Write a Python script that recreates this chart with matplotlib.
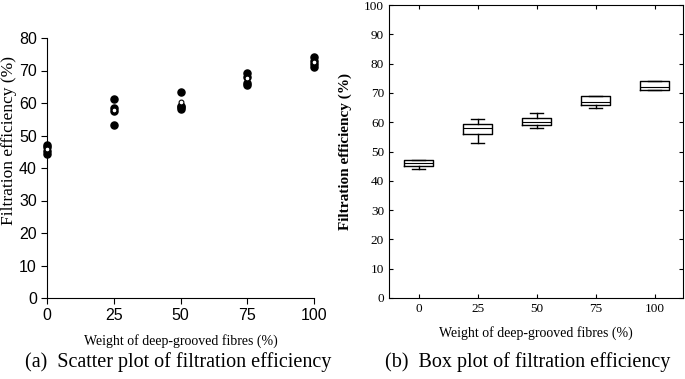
import matplotlib.pyplot as plt

# scatter data (left panel)
weights = [0, 25, 50, 75, 100]
scatter_x = [0, 0, 0, 0, 25, 25, 25, 25, 50, 50, 50, 50, 75, 75, 75, 75, 100, 100, 100, 100]
scatter_y = [47.2, 46.5, 45.2, 44.3, 61.2, 58.6, 57.4, 53.2, 63.3, 59.2, 58.8, 58.3,
             69.2, 68.0, 66.2, 65.4, 74.3, 73.0, 72.0, 71.1]
mean_y = [46.0, 58.0, 60.3, 67.8, 72.7]

# box plot stats (right panel)
box_labels = ['0', '25', '50', '75', '100']
whislo = [44, 53, 58, 65, 71]
q1 = [45, 56, 59, 65.7, 71]
med = [46, 58, 60, 67, 72]
q3 = [47, 59.5, 61.5, 69, 74]
whishi = [47, 61, 63, 69, 74]

fig = plt.figure(figsize=(6.85, 3.79), dpi=100)

# ---- (a) scatter ----
ax1 = fig.add_axes([47.3 / 685, 81 / 379, 266.7 / 685, 260 / 379])
ax1.scatter(scatter_x, scatter_y, s=26, color='black', zorder=3, clip_on=False)
ax1.scatter(weights, mean_y, s=12, facecolor='white', edgecolor='black',
            linewidth=0.8, zorder=4, clip_on=False)
ax1.set_xlim(0, 100)
ax1.set_ylim(0, 80)
ax1.set_xticks(weights)
ax1.set_yticks(range(0, 81, 10))
ax1.spines['top'].set_visible(False)
ax1.spines['right'].set_visible(False)
ax1.tick_params(labelsize=11.5, length=4)
for lab in ax1.get_xticklabels() + ax1.get_yticklabels():
    lab.set_family('Liberation Sans')
ax1.set_ylabel('Filtration efficiency (%)', family='Liberation Serif', fontsize=12.5)
ax1.yaxis.set_label_coords(-0.112, 0.604)
ax1.set_xlabel('Weight of deep-grooved fibres (%)', family='Liberation Serif', fontsize=10, labelpad=8)

# ---- (b) box plot ----
ax2 = fig.add_axes([389 / 685, 81 / 379, 294 / 685, 293 / 379])
stats = []
for i, lab in enumerate(box_labels):
    stats.append(dict(label=lab, whislo=whislo[i], q1=q1[i], med=med[i],
                      q3=q3[i], whishi=whishi[i], fliers=[]))
ax2.bxp(stats, positions=range(1, 6), widths=0.5, capwidths=0.22,
        boxprops=dict(color='black', linewidth=1.0),
        medianprops=dict(color='black', linewidth=0.8),
        whiskerprops=dict(color='black', linewidth=1.0),
        capprops=dict(color='black', linewidth=1.0))
ax2.set_xlim(0.5, 5.48)
ax2.set_ylim(0, 100)
ax2.set_yticks(range(0, 101, 10))
ax2.tick_params(direction='in', top=True, right=True, length=3, labelsize=9.5)
for lab in ax2.get_xticklabels() + ax2.get_yticklabels():
    lab.set_family('Liberation Serif')
ax2.set_ylabel('Filtration efficiency (%)', family='Liberation Serif', fontsize=11,
               fontweight='bold', labelpad=9)
ax2.set_xlabel('Weight of deep-grooved fibres (%)', family='Liberation Serif', fontsize=10, labelpad=8)

# captions
fig.text(178 / 685, 1 - 362 / 379, '(a)  Scatter plot of filtration efficiency',
         family='Liberation Serif', fontsize=14.5, ha='center', va='center')
fig.text(528 / 685, 1 - 362 / 379, '(b)  Box plot of filtration efficiency',
         family='Liberation Serif', fontsize=14.5, ha='center', va='center')

fig.savefig('out.png', dpi=100)
